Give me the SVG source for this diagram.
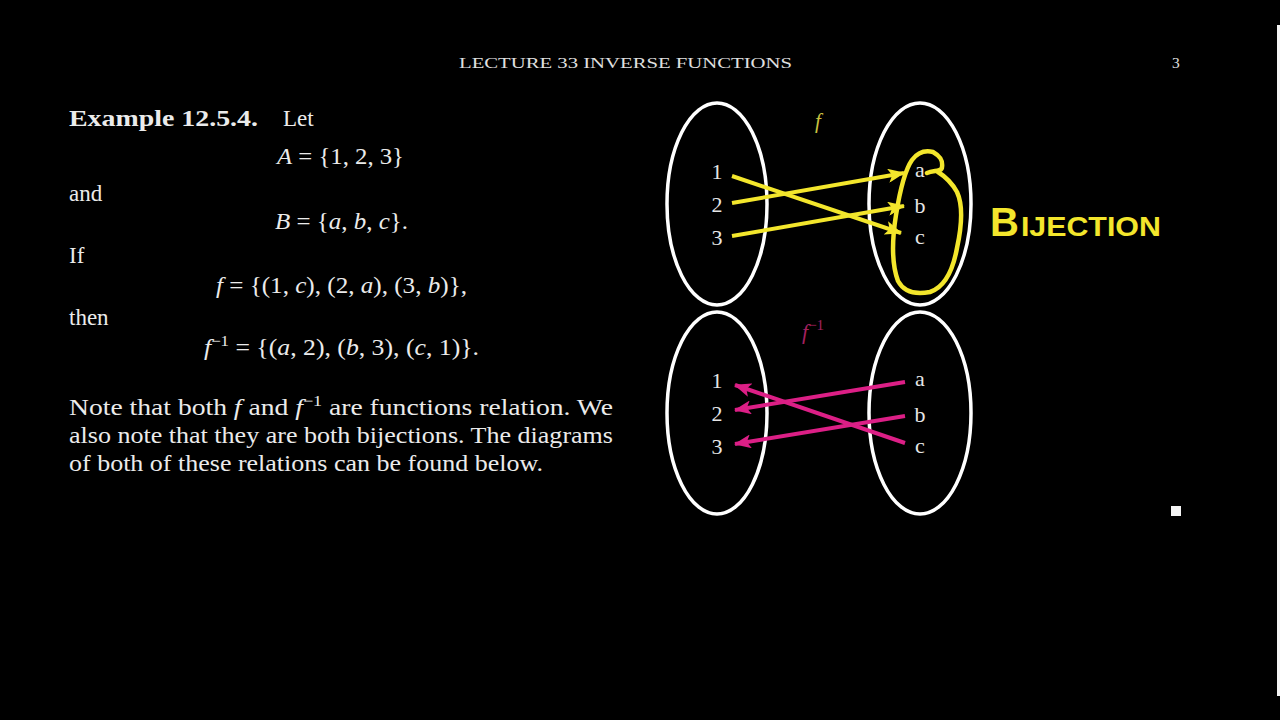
<svg xmlns="http://www.w3.org/2000/svg" width="1280" height="720" viewBox="0 0 1280 720">
<defs>
<style>
.t{font-family:"Liberation Serif","DejaVu Serif",serif;fill:#ebebeb;font-size:23px}
.i{font-style:italic}
.b{font-weight:bold}
.hdr{font-family:"Liberation Serif","DejaVu Serif",serif;fill:#e0e0e0;font-size:15.5px}
.lbl{font-family:"Liberation Serif","DejaVu Serif",serif;fill:#e6e6e6;font-size:22px;text-anchor:middle}
.set{fill:none;stroke:#fff;stroke-width:3.5}
.ya{stroke:#f3e62c;stroke-width:4;fill:none;marker-end:url(#yh)}
.pa{stroke:#dc1f86;stroke-width:4;fill:none;marker-end:url(#ph)}
</style>
<marker id="yh" markerUnits="userSpaceOnUse" markerWidth="20" markerHeight="14" refX="16" refY="7" orient="auto"><path d="M0,0 L17,7 L0,14 L4,7 Z" fill="#f3e62c"/></marker>
<marker id="ph" markerUnits="userSpaceOnUse" markerWidth="20" markerHeight="14" refX="16" refY="7" orient="auto"><path d="M0,0 L17,7 L0,14 L4,7 Z" fill="#dc1f86"/></marker>
</defs>
<rect width="1280" height="720" fill="#000"/>
<rect x="1277" y="25" width="3" height="671" fill="#f4f4f4"/>
<text class="hdr" x="459" y="68" textLength="333" lengthAdjust="spacingAndGlyphs">LECTURE 33 INVERSE FUNCTIONS</text>
<text class="hdr" x="1172" y="68">3</text>
<g id="text">
<text class="t b" x="69" y="126" textLength="189" lengthAdjust="spacingAndGlyphs">Example 12.5.4.</text>
<text class="t" x="283" y="126">Let</text>
<text class="t" x="277" y="164" textLength="127" lengthAdjust="spacingAndGlyphs"><tspan class="i">A</tspan> = {1, 2, 3}</text>
<text class="t" x="69" y="201">and</text>
<text class="t" x="275" y="229" textLength="133" lengthAdjust="spacingAndGlyphs"><tspan class="i">B</tspan> = {<tspan class="i">a</tspan>, <tspan class="i">b</tspan>, <tspan class="i">c</tspan>}.</text>
<text class="t" x="69" y="263">If</text>
<text class="t" x="216" y="293" textLength="251" lengthAdjust="spacingAndGlyphs"><tspan class="i">f</tspan> = {(1, <tspan class="i">c</tspan>), (2, <tspan class="i">a</tspan>), (3, <tspan class="i">b</tspan>)},</text>
<text class="t" x="69" y="325">then</text>
<text class="t" x="204" y="355" textLength="275" lengthAdjust="spacingAndGlyphs"><tspan class="i">f</tspan><tspan dy="-9" font-size="15">−1</tspan><tspan dy="9"> = {(</tspan><tspan class="i">a</tspan>, 2), (<tspan class="i">b</tspan>, 3), (<tspan class="i">c</tspan>, 1)}.</text>
<text class="t" x="69" y="415" textLength="544" lengthAdjust="spacingAndGlyphs">Note that both <tspan class="i">f</tspan> and <tspan class="i">f</tspan><tspan dy="-9" font-size="15">−1</tspan><tspan dy="9"> are functions relation.  We</tspan></text>
<text class="t" x="69" y="443" textLength="544" lengthAdjust="spacingAndGlyphs">also note that they are both bijections.  The diagrams</text>
<text class="t" x="69" y="471" textLength="474" lengthAdjust="spacingAndGlyphs">of both of these relations can be found below.</text>
</g>
<g id="setA-top"><ellipse class="set" cx="717" cy="204" rx="50" ry="101"/>
<text class="lbl" x="717" y="179">1</text><text class="lbl" x="717" y="212">2</text><text class="lbl" x="717" y="245">3</text></g>
<g id="setB-top"><ellipse class="set" cx="920" cy="204" rx="51" ry="101"/>
<text class="lbl" x="920" y="177">a</text><text class="lbl" x="920" y="213">b</text><text class="lbl" x="920" y="244">c</text></g>
<g id="setA-bottom"><ellipse class="set" cx="717" cy="413" rx="50" ry="101"/>
<text class="lbl" x="717" y="388">1</text><text class="lbl" x="717" y="421">2</text><text class="lbl" x="717" y="454">3</text></g>
<g id="setB-bottom"><ellipse class="set" cx="920" cy="413" rx="51" ry="101"/>
<text class="lbl" x="920" y="386">a</text><text class="lbl" x="920" y="422">b</text><text class="lbl" x="920" y="453">c</text></g>
<text x="818" y="128" font-family="Liberation Serif,serif" font-style="italic" font-size="21" fill="#c9c140" text-anchor="middle">f</text>
<text x="802" y="339" font-family="Liberation Serif,serif" font-size="22" fill="#a3205f"><tspan font-style="italic">f</tspan><tspan dy="-9" font-size="15">−1</tspan></text>
<g id="connectors">
<line class="ya" x1="732" y1="176" x2="901" y2="233"/>
<line class="ya" x1="732" y1="203" x2="904" y2="173"/>
<line class="ya" x1="732" y1="236" x2="904" y2="206"/>
<line class="pa" x1="905" y1="382" x2="735" y2="410"/>
<line class="pa" x1="905" y1="416" x2="735" y2="444"/>
<line class="pa" x1="905" y1="443" x2="735" y2="385"/>
</g>
<g id="annotation">
<path d="M927,173 C934,170 942,172 942,167 C943,160 940,156 933,152 C925,150 918,152 912,160 C905,170 900,190 896,215 C892,240 892,265 898,281 C904,292 915,295 930,292 C945,287 953,270 957,248 C962,225 963,205 957,192 C952,183 946,177 938,172" fill="none" stroke="#f3e62c" stroke-width="4.5" stroke-linecap="round" stroke-linejoin="round"/>
<text x="990" y="236" font-family="Liberation Sans,sans-serif" font-weight="bold" fill="#f3e62c"><tspan font-size="40">B</tspan><tspan font-size="28" dx="2" textLength="140" lengthAdjust="spacingAndGlyphs">IJECTION</tspan></text>
</g>
<rect x="1171" y="506" width="10" height="10" fill="#f4f4f4"/>
</svg>
